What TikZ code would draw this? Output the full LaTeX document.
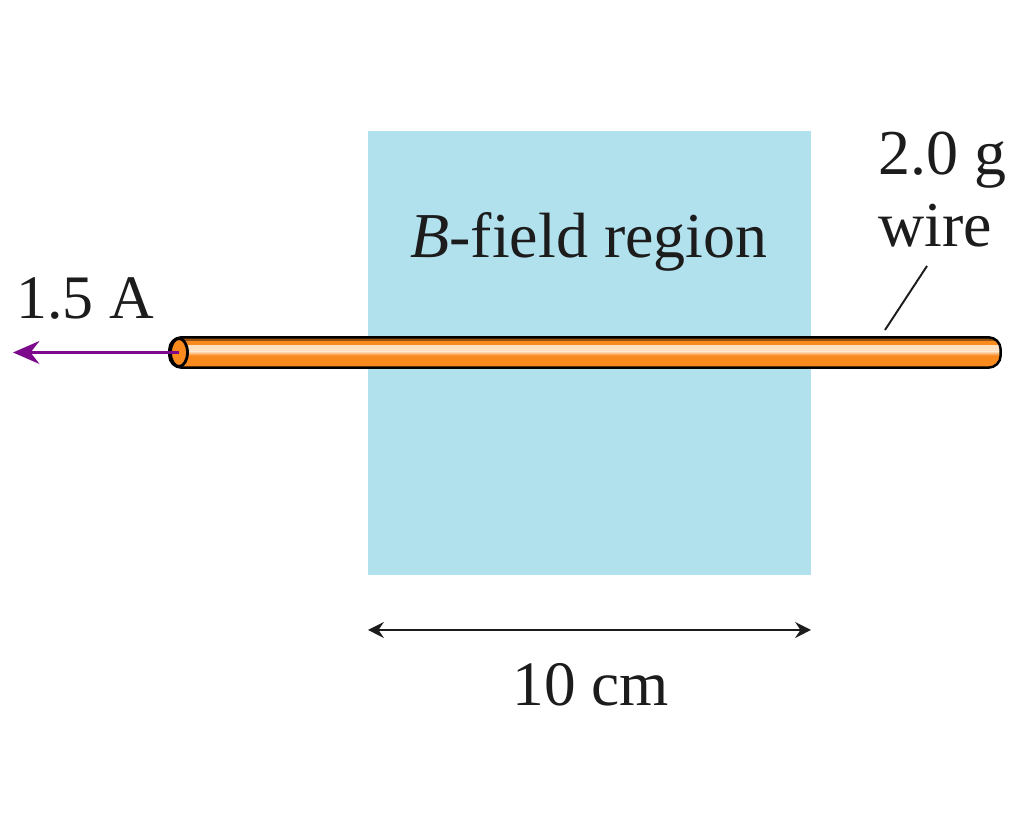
\documentclass[tikz,border=0pt]{standalone}
\usepackage{fontspec}
\setmainfont{Liberation Serif}
\definecolor{bfBlue}{HTML}{B2E1EE}
\definecolor{bfOrange}{HTML}{F98A1E}
\definecolor{bfLight}{HTML}{FFE0C0}
\definecolor{bfBrown}{HTML}{9A5210}
\definecolor{bfPurple}{HTML}{7D0A8C}
\definecolor{bfText}{HTML}{1C1C1C}
\usetikzlibrary{calc,positioning,arrows.meta,shapes.geometric}
\tikzset{
  label text/.style={text=bfText, font=\fontsize{18}{21}\selectfont, inner sep=0pt},
  thin line/.style={draw=bfText, line width=0.55pt},
}
\begin{document}
\begin{tikzpicture}
  \useasboundingbox (0,0) rectangle (10.24,8.32);
  \fill[white] (0,0) rectangle (10.24,8.32);
  % field region
  \node[fill=bfBlue, minimum width=4.43cm, minimum height=4.44cm, inner sep=0pt] (region) at (5.895,4.79) {};
  \node[label text, font=\fontsize{18.2}{21}\selectfont] (regionlabel) at (5.89,5.90) {\textit{B}-field region};
  % wire body
  \node[minimum width=8.30cm, minimum height=0.29cm, inner sep=0pt] (wire) at (5.85,4.795) {};
  \fill[bfOrange, rounded corners=3.5pt] (wire.south west) rectangle (wire.north east);
  \begin{scope}
    \clip[rounded corners=3.5pt] (wire.south west) rectangle (wire.north east);
    \fill[bfBrown] ($(wire.north west)+(0,-0.04)$) rectangle (wire.north east);
    \fill[bfLight] ($(wire.west)+(0,0.07)$) rectangle ($(wire.east)+(0,0.01)$);
    \shade[top color=bfLight, bottom color=bfOrange] ($(wire.west)+(0,0.01)$) rectangle ($(wire.east)+(0,-0.03)$);
  \end{scope}
  \draw[black, line width=0.7pt, rounded corners=3.5pt] (wire.south west) rectangle (wire.north east);
  % open end
  \node[ellipse, draw=black, line width=0.8pt, fill=bfOrange, minimum width=0.17cm, minimum height=0.28cm, inner sep=0pt] (wireend) at (1.79,4.795) {};
  % current arrow
  \coordinate (currenttip) at (0.13,4.795);
  \draw[bfPurple, line width=0.8pt, -{Stealth[length=7.5pt,width=6.5pt,inset=2.5pt]}] (wireend.center) -- (currenttip);
  \node[label text, font=\fontsize{17.6}{21}\selectfont] (current) at (0.85,5.33) {1.5 A};
  % wire label
  \node[label text, font=\fontsize{18.2}{21}\selectfont, align=left, anchor=north west] (wirelabel) at (8.78,7.01) {2.0 g\\[-0.5pt]wire};
  \coordinate (leadertop) at (9.27,5.66);
  \coordinate (leaderend) at (8.85,5.02);
  \draw[thin line] (leadertop) -- (leaderend);
  % width marker
  \coordinate (dimleft) at (3.68,2.02);
  \coordinate (dimright) at (8.11,2.02);
  \draw[thin line, {Stealth[length=4.5pt,width=4.5pt,inset=1.5pt]}-{Stealth[length=4.5pt,width=4.5pt,inset=1.5pt]}] (dimleft) -- (dimright);
  \node[label text] (dimlabel) at (5.91,1.47) {10 cm};
\end{tikzpicture}
\end{document}
